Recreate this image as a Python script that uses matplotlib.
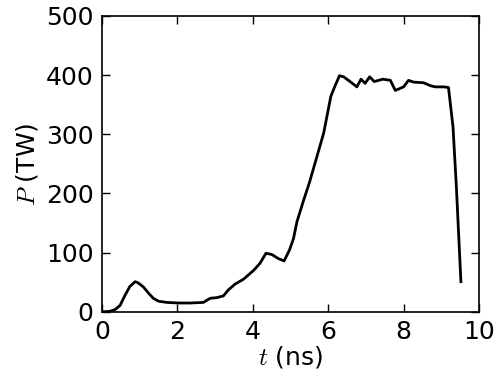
import matplotlib
matplotlib.use("Agg")
import matplotlib.pyplot as plt

plt.rcParams["mathtext.fontset"] = "cm"

# pulse power history
t_ns = [0.0, 0.21, 0.35, 0.48, 0.61, 0.74, 0.88, 0.96, 1.1, 1.23, 1.36, 1.5,
        1.72, 2.03, 2.34, 2.69, 2.87, 3.04, 3.22, 3.35, 3.53, 3.75, 4.02,
        4.19, 4.35, 4.5, 4.68, 4.83, 4.97, 5.08, 5.17, 5.35, 5.5, 5.65, 5.88,
        6.07, 6.19, 6.3, 6.41, 6.58, 6.76, 6.87, 6.98, 7.1, 7.22, 7.45, 7.65,
        7.78, 8.0, 8.13, 8.27, 8.53, 8.71, 8.84, 9.06, 9.19, 9.31, 9.4, 9.52]
p_tw = [0, 1, 4, 11, 28, 43, 51, 49, 42, 32, 23, 18,
        16, 15, 15, 16, 23, 24, 27, 37, 47, 55, 70,
        82, 99, 97, 90, 86, 104, 124, 152, 189, 218, 251, 302,
        364, 383, 399, 397, 389, 380, 393, 386, 397, 389, 393, 391,
        374, 380, 391, 388, 387, 382, 380, 380, 379, 313, 211, 51]

fig = plt.figure(figsize=(5, 3.86), dpi=100)
ax = fig.add_axes([0.204, 0.192, 0.754, 0.767])

ax.plot(t_ns, p_tw, color="black", lw=2)

ax.set_xlim(0, 10)
ax.set_ylim(0, 500)
ax.set_xticks([0, 2, 4, 6, 8, 10])
ax.set_yticks([0, 100, 200, 300, 400, 500])
ax.tick_params(direction="in", top=True, right=True, length=6, width=1,
               labelsize=18, pad=6)
for s in ax.spines.values():
    s.set_linewidth(1.2)

ax.set_xlabel(r"$t$ (ns)", fontsize=18, labelpad=0)
ax.set_ylabel(r"$P$ (TW)", fontsize=18, labelpad=4)

fig.savefig("out.png", dpi=100)
